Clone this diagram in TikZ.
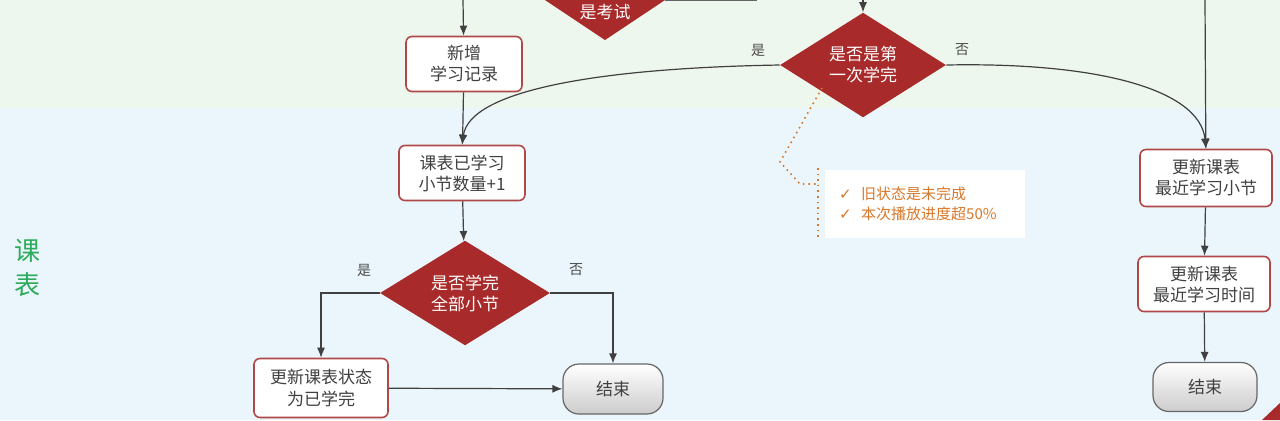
\documentclass[tikz,border=0pt]{standalone}
\usepackage{fontspec}
\setmainfont{Noto Sans CJK SC}
\usetikzlibrary{shapes.geometric,arrows.meta}
\definecolor{dred}{HTML}{A82A2A}
\definecolor{bord}{HTML}{B04848}
\definecolor{topbg}{HTML}{EEF7EE}
\definecolor{botbg}{HTML}{EAF6FC}
\definecolor{anno}{HTML}{D9782A}
\definecolor{lane}{HTML}{2DAA5A}
\begin{document}
\begin{tikzpicture}[x=0.5pt,y=-0.5pt,
  box/.style={draw=bord,line width=0.8pt,fill=white,rounded corners=3pt,align=center,inner sep=0pt,font=\fontsize{8.5}{10.5}\selectfont,text=black!75},
  dia/.style={diamond,fill=dred,text=white,align=center,inner sep=0pt,font=\fontsize{8.5}{10.5}\selectfont},
  term/.style={draw=black!60,line width=0.6pt,top color=white,bottom color=black!20,rounded corners=8pt,align=center,inner sep=0pt,font=\fontsize{8.5}{10}\selectfont,text=black!75},
  lab/.style={font=\fontsize{7}{8}\selectfont,text=black!70},
  arr/.style={draw=black!75,line width=0.6pt,-{Latex[length=5pt,width=4pt]}}]
\useasboundingbox (0,0) rectangle (1280,420);
\fill[topbg] (0,0) rectangle (1280,108);
\fill[botbg] (0,108) rectangle (1280,420);
\begin{scope}
\clip (0,0) rectangle (1280,420);
\fill[dred] (485,-40) -- (605,-120) -- (725,-40) -- (605,40) -- cycle;
\draw[black!60,line width=0.6pt] (665,0.5) -- (757,0.5);
\end{scope}
\node[text=white,font=\fontsize{8.5}{10.5}\selectfont] (exam) at (605,12) {是考试};
\node[lane,font=\fontsize{13}{17}\selectfont,text=lane,align=center] (lanel) at (27,268) {课\\表};
\node[box,minimum width=58pt,minimum height=27.5pt] (add) at (464,64) {新增\\学习记录};
\node[box,minimum width=63pt,minimum height=27.5pt] (cnt) at (462,173) {课表已学习\\小节数量+1};
\node[dia,minimum width=83pt,minimum height=41pt] (first) at (863,65) {是否是第\\一次学完};
\node[dia,minimum width=85pt,minimum height=42pt] (all) at (465,293) {是否学完\\全部小节};
\node[box,minimum width=66pt,minimum height=28.5pt] (sec) at (1206,178) {更新课表\\最近学习小节};
\node[box,minimum width=66pt,minimum height=27.5pt] (time) at (1204,284) {更新课表\\最近学习时间};
\node[term,minimum width=52pt,minimum height=24.5pt] (end2) at (1205,387) {结束};
\node[box,minimum width=67pt,minimum height=29.5pt] (done) at (321,388) {更新课表状态\\为已学完};
\node[term,minimum width=50pt,minimum height=25pt] (end1) at (613,389) {结束};
\coordinate (t1) at (463,0);
\coordinate (t2) at (863,0);
\coordinate (t3) at (1205,0);
\draw[arr] (t1) -- (add);
\draw[arr] (t2) -- (first);
\draw[arr] (t3) -- (sec);
\draw[arr] (add) -- (cnt);
\draw[arr] (first.west) .. controls (600,68) and (470,90) .. (cnt.north);
\draw[arr] (first.east) .. controls (1100,62) and (1200,90) .. (sec.north);
\draw[arr] (cnt) -- (all);
\draw[arr] (sec) -- (time);
\draw[arr] (time) -- (end2);
\draw[arr] (all.west) -| (done.north);
\draw[arr] (all.east) -| (end1.north);
\draw[arr] (done) -- (end1);
\node[lab] (y1) at (758,50) {是};
\node[lab] (n1) at (962,50) {否};
\node[lab] (y2) at (364,270) {是};
\node[lab] (n2) at (576,270) {否};
\fill[white] (825,170) rectangle (1025,238);
\node[anno,text=anno,align=left,anchor=west,font=\fontsize{7.5}{10}\selectfont] (note) at (832,204) {\fontspec{DejaVu Sans}✓\ \ \fontspec{Noto Sans CJK SC}旧状态是未完成\\\fontspec{DejaVu Sans}✓\ \ \fontspec{Noto Sans CJK SC}本次播放进度超50\%};
\draw[anno,dotted,line width=0.8pt] (822,88) -- (780,162) -- (800,184) -- (818,184);
\draw[anno,dotted,line width=0.8pt] (818,168) -- (818,238);
\fill[dred] (1280,403) -- (1280,420) -- (1262,420) -- cycle;
\end{tikzpicture}
\end{document}
